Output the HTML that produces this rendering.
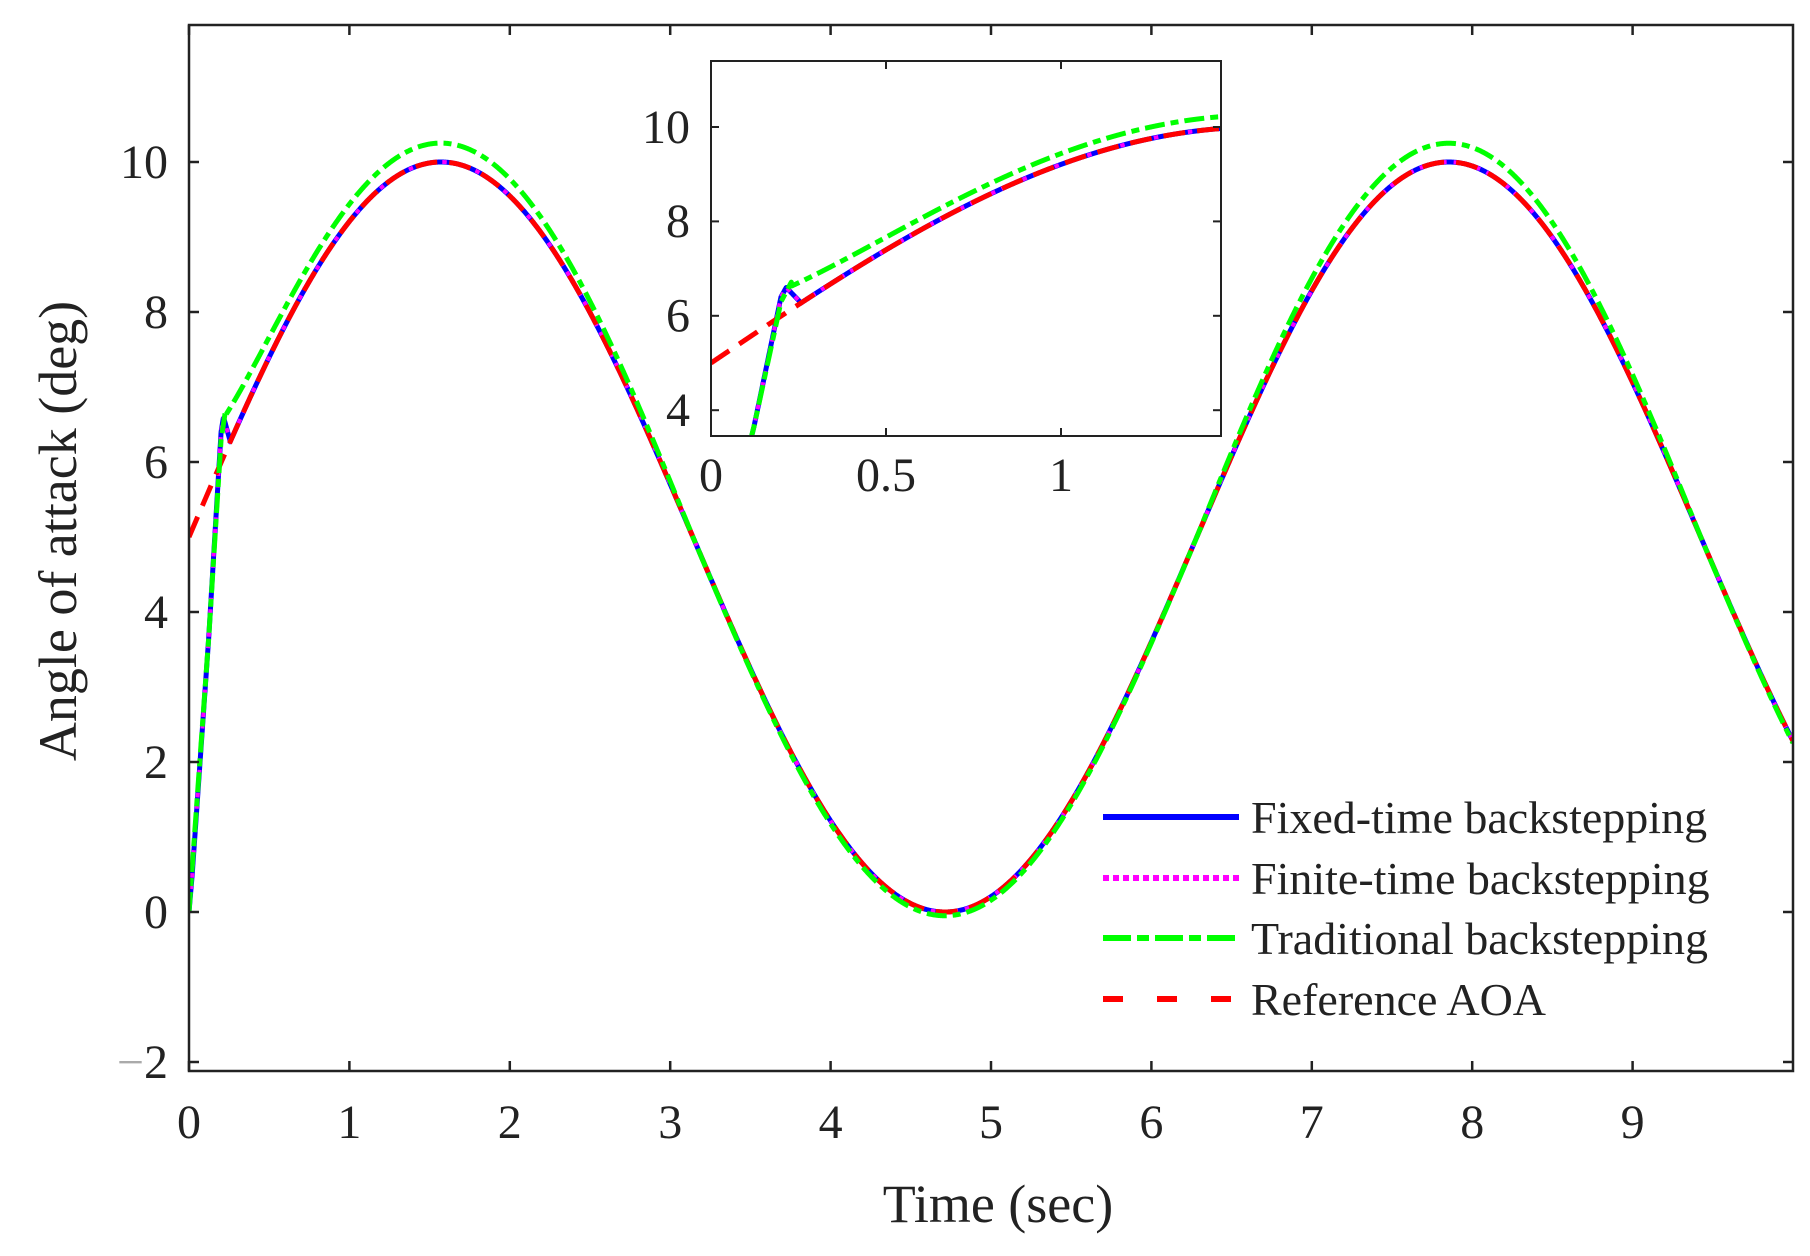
<!DOCTYPE html>
<html><head><meta charset="utf-8"><style>
html,body{margin:0;padding:0;background:#fff;}
svg{display:block;}
text{font-family:"Liberation Serif",serif;fill:#222;}
</style></head><body>
<svg id="s" width="1810" height="1256" viewBox="0 0 1810 1256" xmlns="http://www.w3.org/2000/svg">
<rect width="1810" height="1256" fill="#fff"/>
<g id="main"></g>
<g id="inset"></g>
<g stroke-width="6" fill="none">
<line x1="1103" y1="817" x2="1239" y2="817" stroke="#0000ff"/>
<line x1="1103" y1="878" x2="1239" y2="878" stroke="#ff00ff" stroke-dasharray="6,4"/>
<line x1="1103" y1="938" x2="1239" y2="938" stroke="#00ff00" stroke-dasharray="28,6,12,6"/>
<line x1="1103" y1="999" x2="1239" y2="999" stroke="#ff0000" stroke-dasharray="20,34"/>
</g>
<g font-size="46">
<text x="1251" y="833">Fixed-time backstepping</text>
<text x="1251" y="894">Finite-time backstepping</text>
<text x="1251" y="954">Traditional backstepping</text>
<text x="1251" y="1015">Reference AOA</text>
</g>
<text x="998" y="1222" font-size="54" text-anchor="middle">Time (sec)</text>
<text transform="translate(76,531) rotate(-90)" font-size="54" text-anchor="middle">Angle of attack (deg)</text>
</svg>
<script>
function ref(t){return 5+5*Math.sin(t);}
function blue(t){
  var pts=[[0,0],[0.02,0.5],[0.123,3.66],[0.2,6.4],[0.215,6.6],[0.254,6.3]];
  if(t>=0.254) return ref(t);
  for(var i=0;i<pts.length-1;i++){if(t<=pts[i+1][0]){var a=pts[i],b=pts[i+1];return a[1]+(b[1]-a[1])*(t-a[0])/(b[0]-a[0]);}}
  return ref(t);
}
function green(t){
  var pts=[[0,0],[0.123,3.66],[0.2,6.3],[0.23,6.72]];
  if(t<0.23){for(var i=0;i<pts.length-1;i++){if(t<=pts[i+1][0]){var a=pts[i],b=pts[i+1];return a[1]+(b[1]-a[1])*(t-a[0])/(b[0]-a[0]);}}}
  var s=Math.sin(t);var off=(s>0?0.25*s:0.05*s)+0.4*Math.exp(-4*(t-0.25));
  return ref(t)+off;
}
var NS="http://www.w3.org/2000/svg";
function el(g,name,attrs,txt){var e=document.createElementNS(NS,name);for(var k in attrs)e.setAttribute(k,attrs[k]);if(txt!==undefined)e.textContent=txt;g.appendChild(e);return e;}
function build(g,ax,id){
  var X=function(t){return ax.x0+(t-ax.t0)*ax.sx;},Y=function(v){return ax.yv0-(v-ax.v0)*ax.sy;};
  var defs=el(g,"defs",{});var cp=el(defs,"clipPath",{id:id});
  el(cp,"rect",{x:ax.L,y:ax.T,width:ax.R-ax.L,height:ax.B-ax.T});
  var cg=el(g,"g",{"clip-path":"url(#"+id+")",fill:"none","stroke-linejoin":"round"});
  function path(f,t1){var d="";var n=3000;for(var i=0;i<=n;i++){var t=t1*i/n;d+=(i?"L":"M")+X(t).toFixed(2)+","+Y(f(t)).toFixed(2);}return d;}
  var t1=ax.tmax;var w=ax.lw;
  el(cg,"path",{d:path(blue,t1),stroke:"#0000ff","stroke-width":w});
  el(cg,"path",{d:path(blue,t1),stroke:"#ff00ff","stroke-width":w*0.8,"stroke-dasharray":(w*0.9)+","+(w*1.4)});
  el(cg,"path",{d:path(ref,t1),stroke:"#ff0000","stroke-width":w,"stroke-dasharray":ax.rd});
  el(cg,"path",{d:path(green,t1),stroke:"#00ff00","stroke-width":w,"stroke-dasharray":ax.gd});
  el(g,"rect",{x:ax.L,y:ax.T,width:ax.R-ax.L,height:ax.B-ax.T,fill:"none",stroke:"#222","stroke-width":ax.bw});
  ax.xt.forEach(function(t){var x=X(t);
    el(g,"line",{x1:x,y1:ax.B,x2:x,y2:ax.B-ax.tl,stroke:"#222","stroke-width":ax.bw});
    el(g,"line",{x1:x,y1:ax.T,x2:x,y2:ax.T+ax.tl,stroke:"#222","stroke-width":ax.bw});
    el(g,"text",{x:x,y:ax.xly,"font-size":ax.fs,"text-anchor":"middle"},String(t));});
  ax.yt.forEach(function(v){var y=Y(v);
    el(g,"line",{x1:ax.L,y1:y,x2:ax.L+ax.tl,y2:y,stroke:"#222","stroke-width":ax.bw});
    el(g,"line",{x1:ax.R,y1:y,x2:ax.R-ax.tl,y2:y,stroke:"#222","stroke-width":ax.bw});
    var t=el(g,"text",{x:ax.ylx,y:y+ax.fs*0.33,"font-size":ax.fs,"text-anchor":"end"});
    if(v<0){el(t,"tspan",{fill:"#aaa"},"\u2212");el(t,"tspan",{},String(-v));}else t.textContent=String(v);});
}
build(document.getElementById("main"),{L:189,R:1793,T:25,B:1071,x0:189,t0:0,sx:160.4,yv0:912,v0:0,sy:75,tmax:10.0,lw:5,
  rd:"22,12",gd:"20,6,8,6",bw:2.5,tl:10,xt:[0,1,2,3,4,5,6,7,8,9],yt:[-2,0,2,4,6,8,10],fs:48,xly:1138,ylx:168},"clipMain");
var ig=document.getElementById("inset");
el(ig,"rect",{x:711,y:61,width:510,height:375,fill:"#fff"});
build(ig,{L:711,R:1221,T:61,B:436,x0:711,t0:0,sx:350,yv0:127,v0:10,sy:47.2,tmax:1.5,lw:5,
  rd:"22,12",gd:"20,6,8,6",bw:2,tl:8,xt:[0,0.5,1],yt:[4,6,8,10],fs:48,xly:491,ylx:690},"clipInset");
</script>
</body></html>
